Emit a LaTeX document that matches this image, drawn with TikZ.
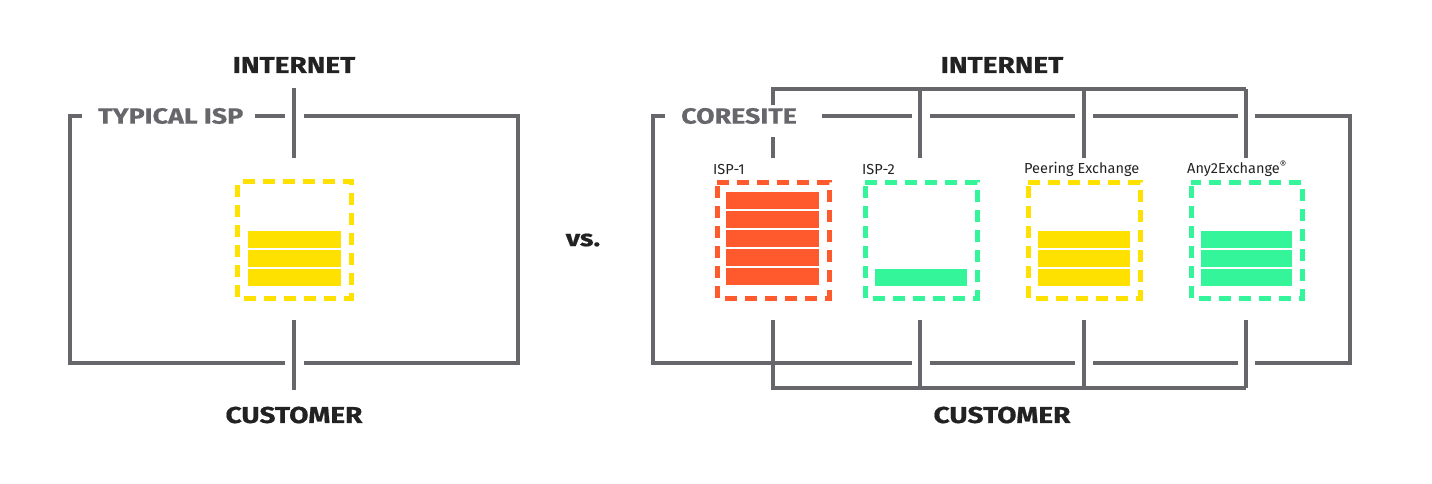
\documentclass[tikz,border=0pt]{standalone}
\usepackage{fontspec}
\setmainfont{Fira Sans}
\newfontfamily\wideface{Fira Sans}[FakeStretch=1.22, FakeBold=0.6]
\usetikzlibrary{positioning}
\definecolor{wireCol}{HTML}{67666B}
\definecolor{ispCol}{HTML}{FF5A2E}
\definecolor{greenCol}{HTML}{35F59B}
\definecolor{yellowCol}{HTML}{FFE100}
\definecolor{textCol}{HTML}{222222}
\tikzstyle{wire}=[line width=4.5pt, draw=wireCol]
\tikzstyle{rack}=[line width=5pt, dash pattern=on 12pt off 8pt, dash phase=-4pt]
\tikzstyle{head}=[font=\wideface\bfseries\fontsize{23}{23}\selectfont, text=textCol]
\tikzstyle{title}=[font=\wideface\bfseries\fontsize{22}{22}\selectfont, text=wireCol, anchor=west, inner sep=0pt]
\tikzstyle{tag}=[font=\fontsize{14.5}{14.5}\selectfont, text=textCol, anchor=west, inner sep=0pt]
\begin{document}
\begin{tikzpicture}[x=1pt,y=-1pt]
    \useasboundingbox (0,0) rectangle (1432,483);

    % ==== TYPICAL ISP ====
    \node[head] (inet1) at (294,65) {INTERNET};
    \node[head] (cust1) at (294,415) {CUSTOMER};
    \node[title] (typ) at (98,116) {TYPICAL ISP};
    \draw[wire] (82,116) -- (70,116) -- (70,363) -- (285,363);
    \draw[wire] (304,363) -- (518,363) -- (518,116) -- (304,116);
    \draw[wire] (255,116) -- (285,116);
    \coordinate (t1) at (294,88);
    \coordinate (b1) at (294,390);
    \draw[wire] (t1) -- (294,158);
    \draw[wire] (294,320) -- (b1);
    \draw[rack, draw=yellowCol] (237,181) rectangle (351,298);
    \foreach \y in {231,250,269}
        \fill[yellowCol] (248,\y) rectangle (341,\y+17);

    \node[head] (vs) at (583,240) {vs.};

    % ==== CORESITE ====
    \node[head] (inet2) at (1002,65) {INTERNET};
    \node[head] (cust2) at (1002,415) {CUSTOMER};
    \node[title] (core) at (681,116) {CORESITE};
    \draw[wire] (665,116) -- (653,116) -- (653,363) -- (912,363);
    \draw[wire] (930,363) -- (1075,363);
    \draw[wire] (1093,363) -- (1238,363);
    \draw[wire] (1255,363) -- (1350,363) -- (1350,116) -- (1255,116);
    \draw[wire] (822,116) -- (912,116);
    \draw[wire] (930,116) -- (1075,116);
    \draw[wire] (1093,116) -- (1238,116);
    % buses
    \draw[wire] (773,105) -- (773,89) -- (1246,89);
    \draw[wire] (773,320) -- (773,388) -- (1246,388);
    \draw[wire] (773,137) -- (773,158);
    \foreach \x in {920,1084,1246} {
        \draw[wire] (\x,89) -- (\x,158);
        \draw[wire] (\x,320) -- (\x,388);
    }

    % racks
    \draw[rack, draw=ispCol] (717,182) rectangle (829,298);
    \node[tag] (isp1) at (713,169) {ISP-1};
    \foreach \y in {192,211,230,249,268}
        \fill[ispCol] (726,\y) rectangle (819,\y+17);

    \draw[rack, draw=greenCol] (865,182) rectangle (977,298);
    \node[tag] (isp2) at (862,169) {ISP-2};
    \fill[greenCol] (875,269) rectangle (967,286);

    \draw[rack, draw=yellowCol] (1028,182) rectangle (1140,298);
    \node[tag] (peer) at (1024,169) {Peering Exchange};
    \foreach \y in {231,250,269}
        \fill[yellowCol] (1038,\y) rectangle (1130,\y+17);

    \draw[rack, draw=greenCol] (1191,182) rectangle (1302,298);
    \node[tag] (any2) at (1187,169) {Any2Exchange\textsuperscript{®}};
    \foreach \y in {231,250,269}
        \fill[greenCol] (1201,\y) rectangle (1292,\y+17);

\end{tikzpicture}
\end{document}
